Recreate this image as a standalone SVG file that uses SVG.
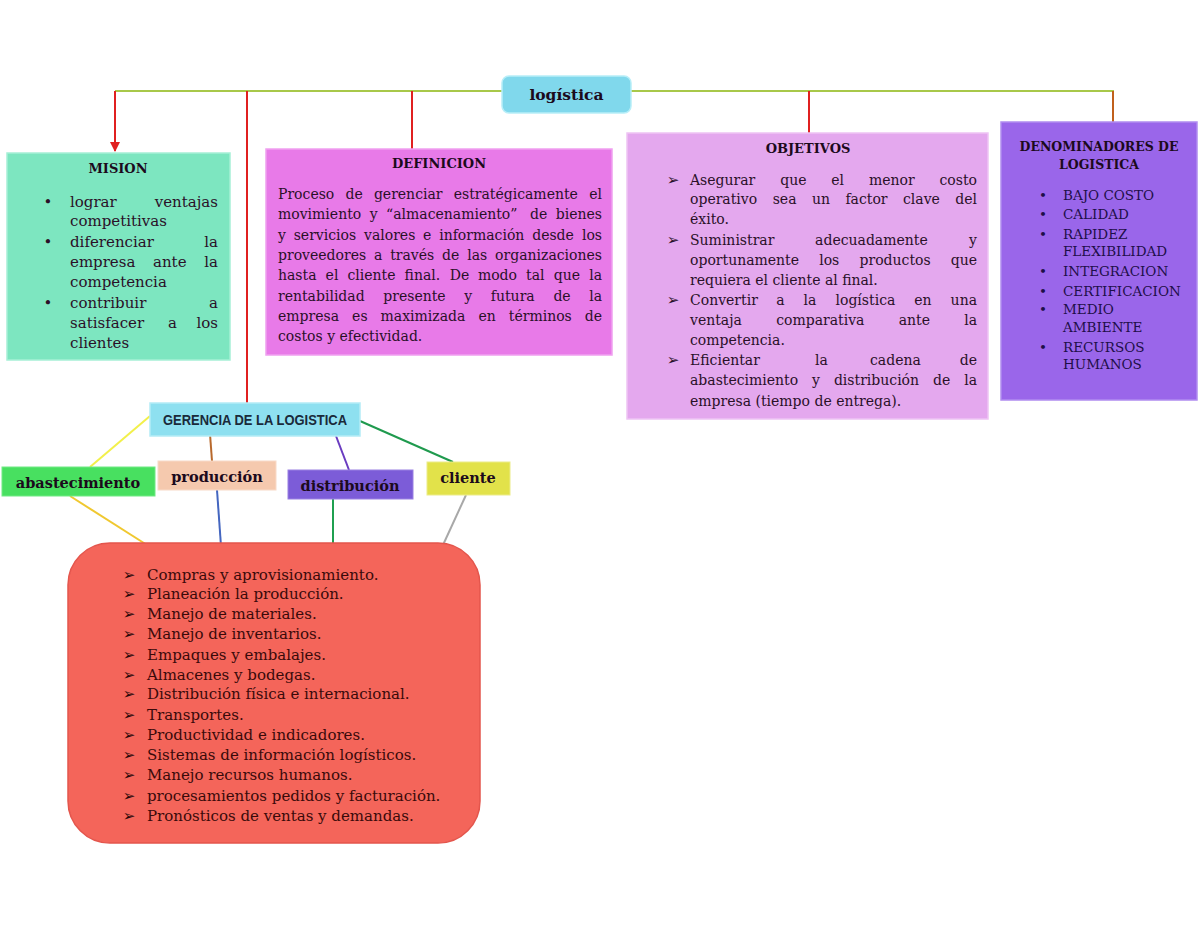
<svg xmlns="http://www.w3.org/2000/svg" width="1200" height="927" viewBox="0 0 1200 927">
<style>
.t{font-family:"DejaVu Serif","Liberation Serif",serif;fill:#2a1028}
.b{font-family:"DejaVu Serif","Liberation Serif",serif;font-weight:bold;fill:#1c0a1c}
.s14{font-size:14px}
.s15{font-size:15px}
.sym{font-family:"DejaVu Sans","Liberation Sans",sans-serif;fill:#2a1028}
.c{fill:none;stroke-width:2}
</style>
<defs>
<marker id="arr" viewBox="0 0 10 10" refX="9" refY="5" markerWidth="5" markerHeight="5" orient="auto">
<path d="M0,0 L10,5 L0,10 z" fill="#e02020"/>
</marker>
</defs>
<rect width="1200" height="927" fill="#ffffff"/>

<g id="connectors">
<line class="c" x1="115" y1="91" x2="1114" y2="91" stroke="#a8c84a"/>
<line class="c" x1="115" y1="91" x2="115" y2="151" stroke="#e02020" marker-end="url(#arr)"/>
<line class="c" x1="247" y1="91" x2="247" y2="403" stroke="#e02020"/>
<line class="c" x1="412" y1="91" x2="412" y2="149" stroke="#e02020"/>
<line class="c" x1="809" y1="91" x2="809" y2="133" stroke="#e02020"/>
<line class="c" x1="1113" y1="91" x2="1113" y2="122" stroke="#c0601c" stroke-width="2.5"/>
<line class="c" x1="150" y1="416" x2="90" y2="467" stroke="#f2f04a"/>
<line class="c" x1="210" y1="434" x2="212" y2="461" stroke="#b8692c"/>
<line class="c" x1="336" y1="436" x2="349" y2="470" stroke="#6a3cc0"/>
<line class="c" x1="360" y1="421" x2="453" y2="462" stroke="#1f9a4e"/>
<line class="c" x1="70" y1="496" x2="147" y2="545" stroke="#f0c830"/>
<line class="c" x1="217" y1="490" x2="221" y2="546" stroke="#4466c0"/>
<line class="c" x1="333" y1="499" x2="333" y2="547" stroke="#1fa050"/>
<line class="c" x1="466" y1="495" x2="443" y2="545" stroke="#a8a8a8"/>
</g>

<g id="logistica">
<rect x="502" y="76" width="129" height="37" rx="7" fill="#80d8ec" stroke="#b8eef8" stroke-width="1.5"/>
<text class="b" x="566.5" y="100" font-size="15.5" text-anchor="middle">logística</text>
</g>

<g id="mision">
<rect x="7" y="153" width="223" height="207" fill="#7de6c0" stroke="#a6f0d6" stroke-width="1.5"/>
<text class="b" x="118" y="173" font-size="13" text-anchor="middle">MISION</text>
<g class="t s15">
<text x="48" y="207" text-anchor="middle">•</text>
<text x="70" y="207">lograr</text><text x="218" y="207" text-anchor="end">ventajas</text>
<text x="70" y="226">competitivas</text>
<text x="48" y="247" text-anchor="middle">•</text>
<text x="70" y="247">diferenciar</text><text x="218" y="247" text-anchor="end">la</text>
<text x="70" y="267">empresa</text><text x="153" y="267">ante</text><text x="218" y="267" text-anchor="end">la</text>
<text x="70" y="287">competencia</text>
<text x="48" y="308" text-anchor="middle">•</text>
<text x="70" y="308">contribuir</text><text x="218" y="308" text-anchor="end">a</text>
<text x="70" y="328">satisfacer</text><text x="168" y="328">a</text><text x="218" y="328" text-anchor="end">los</text>
<text x="70" y="348">clientes</text>
</g>
</g>

<g id="definicion">
<rect x="266" y="149" width="346" height="206" fill="#e87ae8" stroke="#f0a0f0" stroke-width="1.5"/>
<text class="b" x="439" y="168" font-size="13" text-anchor="middle">DEFINICION</text>
<g class="t s14">
<text x="278" y="199">Proceso</text><text x="345.5" y="199">de</text><text x="373.9" y="199">gerenciar</text><text x="453.7" y="199">estratégicamente</text><text x="602" y="199" text-anchor="end">el</text>
<text x="278" y="219">movimiento</text><text x="369.7" y="219">y</text><text x="386.1" y="219">“almacenamiento”</text><text x="530.1" y="219">de</text><text x="602" y="219" text-anchor="end">bienes</text>
<text x="278" y="240">y</text><text x="293.7" y="240">servicios</text><text x="364" y="240">valores</text><text x="423.1" y="240">e</text><text x="439.2" y="240">información</text><text x="532.2" y="240">desde</text><text x="602" y="240" text-anchor="end">los</text>
<text x="278" y="260">proveedores</text><text x="373.9" y="260">a</text><text x="390.2" y="260">través</text><text x="442.1" y="260">de</text><text x="467.3" y="260">las</text><text x="602" y="260" text-anchor="end">organizaciones</text>
<text x="278" y="280">hasta</text><text x="325.6" y="280">el</text><text x="347.5" y="280">cliente</text><text x="404.6" y="280">final.</text><text x="449.7" y="280">De</text><text x="477.9" y="280">modo</text><text x="526.1" y="280">tal</text><text x="553.7" y="280">que</text><text x="602" y="280" text-anchor="end">la</text>
<text x="278" y="301">rentabilidad</text><text x="383.3" y="301">presente</text><text x="464.3" y="301">y</text><text x="490.8" y="301">futura</text><text x="553.4" y="301">de</text><text x="602" y="301" text-anchor="end">la</text>
<text x="278" y="321">empresa</text><text x="352.1" y="321">es</text><text x="380.6" y="321">maximizada</text><text x="478.4" y="321">en</text><text x="508.8" y="321">términos</text><text x="602" y="321" text-anchor="end">de</text>
<text x="278" y="341">costos y efectividad.</text>
</g>
</g>

<g id="objetivos">
<rect x="627" y="133" width="361" height="286" fill="#e4a8ee" stroke="#eec4f4" stroke-width="1.5"/>
<text class="b" x="808" y="153" font-size="13" text-anchor="middle">OBJETIVOS</text>
<g class="sym" font-size="15">
<text x="673" y="185" text-anchor="middle">➢</text>
<text x="673" y="245" text-anchor="middle">➢</text>
<text x="673" y="305" text-anchor="middle">➢</text>
<text x="673" y="365" text-anchor="middle">➢</text>
</g>
<g class="t s14">
<text x="690" y="185">Asegurar</text><text x="780.2" y="185">que</text><text x="831.3" y="185">el</text><text x="869" y="185">menor</text><text x="977" y="185" text-anchor="end">costo</text>
<text x="690" y="204">operativo</text><text x="772.7" y="204">sea</text><text x="812" y="204">un</text><text x="845.4" y="204">factor</text><text x="903" y="204">clave</text><text x="977" y="204" text-anchor="end">del</text>
<text x="690" y="224">éxito.</text>
<text x="690" y="245">Suministrar</text><text x="815.1" y="245">adecuadamente</text><text x="977" y="245" text-anchor="end">y</text>
<text x="690" y="265">oportunamente</text><text x="819.2" y="265">los</text><text x="859.5" y="265">productos</text><text x="977" y="265" text-anchor="end">que</text>
<text x="690" y="285">requiera el cliente al final.</text>
<text x="690" y="305">Convertir</text><text x="776.2" y="305">a</text><text x="803.6" y="305">la</text><text x="835.5" y="305">logística</text><text x="914.3" y="305">en</text><text x="977" y="305" text-anchor="end">una</text>
<text x="690" y="325">ventaja</text><text x="776.2" y="325">comparativa</text><text x="898.7" y="325">ante</text><text x="977" y="325" text-anchor="end">la</text>
<text x="690" y="345">competencia.</text>
<text x="690" y="365">Eficientar</text><text x="815" y="365">la</text><text x="870" y="365">cadena</text><text x="977" y="365" text-anchor="end">de</text>
<text x="690" y="385">abastecimiento</text><text x="812.1" y="385">y</text><text x="833.9" y="385">distribución</text><text x="933" y="385">de</text><text x="977" y="385" text-anchor="end">la</text>
<text x="690" y="406">empresa (tiempo de entrega).</text>
</g>
</g>

<g id="denominadores">
<rect x="1001" y="122" width="196" height="278" fill="#9a66ea" stroke="#b08cf0" stroke-width="1.5"/>
<text class="b" x="1099" y="151" font-size="12.5" text-anchor="middle">DENOMINADORES DE</text>
<text class="b" x="1099" y="169" font-size="12.5" text-anchor="middle">LOGISTICA</text>
<g class="t" font-size="13.5" style="fill:#1e0e48">
<text x="1043" y="200" text-anchor="middle">•</text><text x="1063" y="200">BAJO COSTO</text>
<text x="1043" y="219" text-anchor="middle">•</text><text x="1063" y="219">CALIDAD</text>
<text x="1043" y="239" text-anchor="middle">•</text><text x="1063" y="239">RAPIDEZ</text>
<text x="1063" y="256">FLEXIBILIDAD</text>
<text x="1043" y="276" text-anchor="middle">•</text><text x="1063" y="276">INTEGRACION</text>
<text x="1043" y="296" text-anchor="middle">•</text><text x="1063" y="296">CERTIFICACION</text>
<text x="1043" y="314" text-anchor="middle">•</text><text x="1063" y="314">MEDIO</text>
<text x="1063" y="332">AMBIENTE</text>
<text x="1043" y="352" text-anchor="middle">•</text><text x="1063" y="352">RECURSOS</text>
<text x="1063" y="369">HUMANOS</text>
</g>
</g>

<g id="gerencia">
<rect x="150" y="403" width="210" height="33" fill="#8ee0f0" stroke="#b4ecf6" stroke-width="1.5"/>
<text x="255" y="425" font-family="'Liberation Sans',Arial,sans-serif" font-weight="bold" font-size="15" fill="#1a2a3a" text-anchor="middle" textLength="184" lengthAdjust="spacingAndGlyphs">GERENCIA DE LA LOGISTICA</text>
</g>

<g id="abastecimiento">
<rect x="2" y="467" width="153" height="29" fill="#48e060" stroke="#70ea84" stroke-width="1"/>
<text class="b" x="78" y="488" font-size="14.5" text-anchor="middle">abastecimiento</text>
</g>

<g id="produccion">
<rect x="158" y="461" width="118" height="29" fill="#f5c9ae" stroke="#f8dac8" stroke-width="1"/>
<text class="b" x="217" y="482" font-size="14.5" text-anchor="middle">producción</text>
</g>

<g id="distribucion">
<rect x="288" y="470" width="125" height="29" fill="#7c5cd8" stroke="#9a80e2" stroke-width="1"/>
<text class="b" x="350" y="491" font-size="14.5" text-anchor="middle">distribución</text>
</g>

<g id="cliente">
<rect x="427" y="462" width="83" height="33" fill="#e2e24a" stroke="#ecec88" stroke-width="1"/>
<text class="b" x="468" y="483" font-size="14.5" text-anchor="middle">cliente</text>
</g>

<g id="actividades">
<rect x="68" y="543" width="412" height="300" rx="42" fill="#f4655a" stroke="#e4554c" stroke-width="1.5"/>
<g class="sym" font-size="15" style="fill:#2a0808">
<text x="129" y="580" text-anchor="middle">➢</text>
<text x="129" y="599" text-anchor="middle">➢</text>
<text x="129" y="619" text-anchor="middle">➢</text>
<text x="129" y="639" text-anchor="middle">➢</text>
<text x="129" y="660" text-anchor="middle">➢</text>
<text x="129" y="680" text-anchor="middle">➢</text>
<text x="129" y="699" text-anchor="middle">➢</text>
<text x="129" y="720" text-anchor="middle">➢</text>
<text x="129" y="740" text-anchor="middle">➢</text>
<text x="129" y="760" text-anchor="middle">➢</text>
<text x="129" y="780" text-anchor="middle">➢</text>
<text x="129" y="801" text-anchor="middle">➢</text>
<text x="129" y="821" text-anchor="middle">➢</text>
</g>
<g class="t" font-size="15" style="fill:#3a0a0a">
<text x="147" y="580">Compras y aprovisionamiento.</text>
<text x="147" y="599">Planeación la producción.</text>
<text x="147" y="619">Manejo de materiales.</text>
<text x="147" y="639">Manejo de inventarios.</text>
<text x="147" y="660">Empaques y embalajes.</text>
<text x="147" y="680">Almacenes y bodegas.</text>
<text x="147" y="699">Distribución física e internacional.</text>
<text x="147" y="720">Transportes.</text>
<text x="147" y="740">Productividad e indicadores.</text>
<text x="147" y="760">Sistemas de información logísticos.</text>
<text x="147" y="780">Manejo recursos humanos.</text>
<text x="147" y="801">procesamientos pedidos y facturación.</text>
<text x="147" y="821">Pronósticos de ventas y demandas.</text>
</g>
</g>
</svg>
